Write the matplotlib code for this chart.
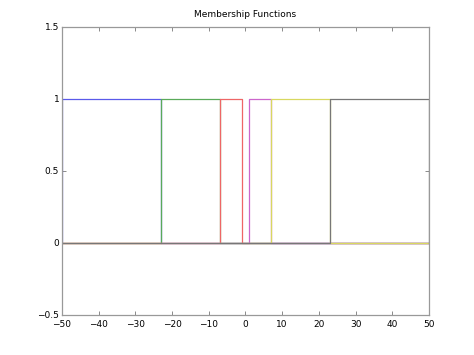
import matplotlib
matplotlib.use("Agg")
import matplotlib.pyplot as plt

# Crisp membership sets: (left edge, right edge)
set_names = ["NB", "NM", "NS", "PS", "PM", "PB"]
left_edges = [-50, -23, -7, 1, 7, 23]
right_edges = [-23, -7, -1, 7, 23, 50]
colors = ["#5a5aea", "#5aaa5a", "#ee6666", "#cc66cc", "#d8d860", "#777777"]
x_range = [-50, 50]
x_ticks = list(range(-50, 51, 10))
y_ticks = [-0.5, 0, 0.5, 1, 1.5]
y_ticklabels = ["\u22120.5", "0", "0.5", "1", "1.5"]

fig = plt.figure(figsize=(4.74, 3.55), dpi=100)
ax = fig.add_axes([62/474, 1-315/355, (429-62)/474, (315-27)/355])

for name, a, b, c in zip(set_names, left_edges, right_edges, colors):
    xs = [x_range[0], a, a, b, b, x_range[1]]
    ys = [0, 0, 1, 1, 0, 0]
    ax.plot(xs, ys, color=c, lw=0.9, label=name)

ax.set_xlim(x_range)
ax.set_ylim(-0.5, 1.5)
ax.set_xticks(x_ticks)
ax.set_xticklabels([str(t).replace("-", "\u2212") for t in x_ticks])
ax.set_yticks(y_ticks)
ax.set_yticklabels(y_ticklabels)
ax.tick_params(direction="in", length=3, width=0.6, colors="#777777",
               labelcolor="black", labelsize=6.5, top=True, right=True, pad=2)
ax.tick_params(axis="x", pad=3.5)
for s in ax.spines.values():
    s.set_color("#999999")
    s.set_linewidth(0.9)
ax.set_title("Membership Functions", fontsize=6.5, pad=7)

fig.savefig("out.png", dpi=100)
